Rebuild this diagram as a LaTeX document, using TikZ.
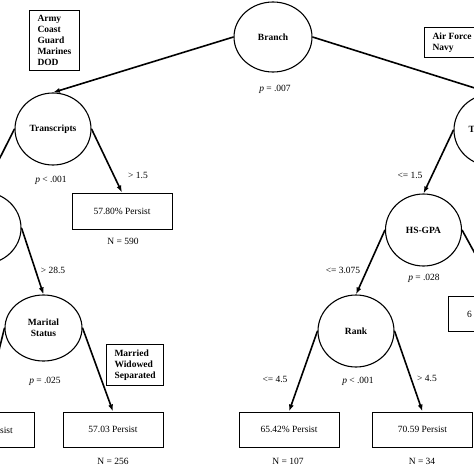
\documentclass[tikz,border=0pt]{standalone}
\usepackage{fontspec}
\setmainfont{Liberation Serif}
\usetikzlibrary{shapes.geometric, arrows.meta}

\begin{document}
\begin{tikzpicture}[x=1pt, y=-1pt, font=\fontsize{9.5}{11}\selectfont,
    splitnode/.style={draw, ellipse, line width=1.1pt, minimum width=76pt, minimum height=72pt,
      inner sep=0pt, align=center, font=\fontsize{9.5}{11}\selectfont\bfseries},
    leafbox/.style={draw, rectangle, line width=1pt, minimum width=100pt, minimum height=35pt, inner sep=0pt},
    catbox/.style={draw, rectangle, line width=1pt, align=left, inner xsep=8pt, inner ysep=5pt,
      font=\fontsize{9.5}{11}\selectfont\bfseries},
    stat/.style={inner sep=0pt},
    branchto/.style={-{Latex[length=7pt, width=5pt]}, line width=1.6pt}]
  \useasboundingbox (0,0) rectangle (474,474);
  \clip (0,0) rectangle (474,474);

  % split nodes
  \node[splitnode, minimum width=78pt, minimum height=70pt] (branch) at (273,37) {Branch};
  \node[splitnode] (transL) at (53,129) {Transcripts};
  \node[splitnode] (transR) at (492,130) {Transcripts};
  \node[splitnode] (ageL) at (-17,228) {};
  \node[splitnode, minimum width=77pt, minimum height=66pt] (marital) at (43.5,328) {Marital\\Status};
  \node[splitnode] (hsgpa) at (423.5,230) {HS-GPA};
  \node[splitnode] (rank) at (356,331) {Rank};

  % leaves
  \node[leafbox, minimum height=36pt] (persA) at (122,211) {57.80\% Persist};
  \node[leafbox] (persL) at (-16,429.5) {};
  \node[stat, anchor=east] (persLtext) at (13,430) {Persist};
  \node[leafbox] (persB) at (113,429.5) {57.03 Persist};
  \node[leafbox] (persC) at (289,429.5) {65.42\% Persist};
  \node[leafbox] (persD) at (422.5,429.5) {70.59 Persist};
  \node[leafbox] (persR) at (498,313.5) {};
  \node[stat, anchor=west] (persRtext) at (467,314) {6};

  % groups
  \node[catbox, anchor=north west] (armyBox) at (29,10) {Army\\Coast\\Guard\\Marines\\DOD};
  \node[catbox, anchor=north west] (airBox) at (424,27) {Air Force\\Navy};
  \node[catbox, anchor=north west] (marriedBox) at (106,344) {Married\\Widowed\\Separated};

  % p values and counts
  \node[stat] (pBranch) at (275,89) {\textit{p} = .007};
  \node[stat] (pTransL) at (51,180) {\textit{p} < .001};
  \node[stat] (pMarital) at (45,381) {\textit{p} = .025};
  \node[stat] (pHsgpa) at (424,278) {\textit{p} = .028};
  \node[stat] (pRank) at (358,381) {\textit{p} < .001};
  \node[stat] (nA) at (123,241) {N = 590};
  \node[stat] (nB) at (113,461) {N = 256};
  \node[stat] (nC) at (288,461) {N = 107};
  \node[stat] (nD) at (422,461) {N = 34};

  % cut points
  \node[stat] (cutA) at (138,175) {> 1.5};
  \node[stat] (cutB) at (53,270) {> 28.5};
  \node[stat] (cutC) at (410,175) {<= 1.5};
  \node[stat] (cutD) at (343,270) {<= 3.075};
  \node[stat] (cutE) at (275,379) {<= 4.5};
  \node[stat] (cutF) at (427,378) {> 4.5};

  \draw[branchto] (branch.west) -- (transL.north);
  \draw[branchto] (branch.east) -- (transR.north);
  \draw[branchto] (transL.west) -- (ageL.north);
  \draw[branchto] (transL.east) -- (persA.north);
  \draw[branchto] (ageL.east) -- (marital.north);
  \draw[branchto] (marital.west) -- (persL.north);
  \draw[branchto] (marital.east) -- (persB.north);
  \draw[branchto] (transR.west) -- (hsgpa.north);
  \draw[branchto] (hsgpa.west) -- (rank.north);
  \draw[branchto] (hsgpa.east) -- (persR.north);
  \draw[branchto] (rank.west) -- (persC.north);
  \draw[branchto] (rank.east) -- (persD.north);
\end{tikzpicture}
\end{document}
